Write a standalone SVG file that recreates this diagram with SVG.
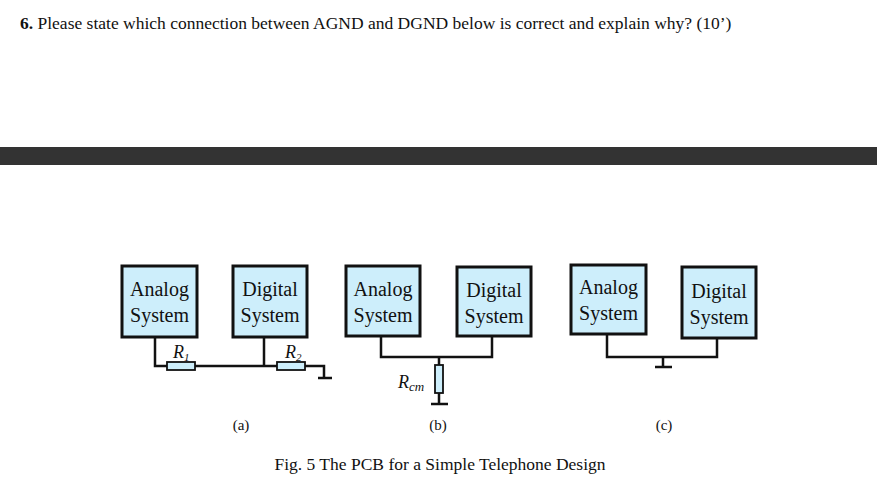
<svg xmlns="http://www.w3.org/2000/svg" width="877" height="497" viewBox="0 0 877 497">
<style>
.b{fill:#cdeefb;stroke:#111;stroke-width:3}
.t{font-family:"Liberation Serif",serif;font-size:20px;fill:#111;text-anchor:middle}
.w{fill:none;stroke:#111;stroke-width:2.5}
.r{fill:#cdeefb;stroke:#111;stroke-width:1.8}
.c{font-family:"Liberation Serif",serif;font-size:15px;fill:#111;text-anchor:middle}
.l{font-family:"Liberation Serif",serif;font-size:18px;font-style:italic;fill:#111}
</style>
<rect width="877" height="497" fill="#fff"/>
<text x="20" y="29" font-family="Liberation Serif,serif" font-size="17.5" fill="#111"><tspan font-weight="bold">6.</tspan> Please state which connection between AGND and DGND below is correct and explain why? (10’)</text>
<rect x="0" y="147" width="877" height="18" fill="#333"/>
<g id="a-analog"><rect class="b" x="122" y="266" width="75" height="71"/><text class="t" x="159.5" y="296">Analog</text><text class="t" x="159.5" y="322">System</text></g>
<g id="a-digital"><rect class="b" x="233" y="266" width="74" height="71"/><text class="t" x="270" y="296">Digital</text><text class="t" x="270" y="322">System</text></g>
<g id="b-analog"><rect class="b" x="346" y="266" width="74" height="70"/><text class="t" x="383" y="296">Analog</text><text class="t" x="383" y="322">System</text></g>
<g id="b-digital"><rect class="b" x="457" y="267" width="74" height="69"/><text class="t" x="494" y="297">Digital</text><text class="t" x="494" y="323">System</text></g>
<g id="c-analog"><rect class="b" x="571" y="265" width="75" height="69"/><text class="t" x="608.5" y="294">Analog</text><text class="t" x="608.5" y="320">System</text></g>
<g id="c-digital"><rect class="b" x="682" y="267" width="74" height="71"/><text class="t" x="719" y="298">Digital</text><text class="t" x="719" y="324">System</text></g>
<g id="connectors">
<path class="w" d="M155 337V366H167M195 366H277M264 337V366M305 366H324V378M318 378H332"/>
<rect class="r" x="167" y="362" width="28" height="8"/>
<rect class="r" x="277" y="362" width="28" height="8"/>
<path class="w" d="M381 336V357H492V336M439 357V365M439 393V404M431 404H448"/>
<rect class="r" x="435" y="365" width="8" height="28"/>
<path class="w" d="M607 334V357H717V338M663 357V367M655 367H672"/>
</g>
<text class="l" x="173" y="358">R<tspan font-size="11" dy="3">1</tspan></text>
<text class="l" x="285" y="358">R<tspan font-size="11" dy="3">2</tspan></text>
<text class="l" x="398" y="388">R<tspan font-size="13" dy="3">cm</tspan></text>
<text class="c" x="241" y="430">(a)</text>
<text class="c" x="438" y="430">(b)</text>
<text class="c" x="664" y="430">(c)</text>
<text x="440" y="470" font-family="Liberation Serif,serif" font-size="17.5" fill="#111" text-anchor="middle">Fig. 5 The PCB for a Simple Telephone Design</text>
</svg>
